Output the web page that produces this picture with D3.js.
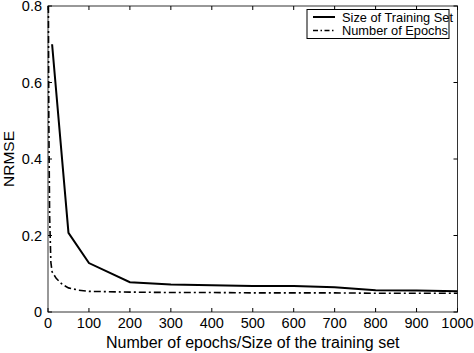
<!DOCTYPE html>
<html>
<head>
<meta charset="utf-8">
<script src="https://cdn.jsdelivr.net/npm/d3@7"></script>
<style>
body { margin: 0; background: #fff; }
text { font-family: "Liberation Sans", Arial, sans-serif; fill: #000; }
</style>
</head>
<body>
<svg id="chart" width="474" height="353"></svg>
<script>
// values
var trainX = [10, 50, 100, 200, 300, 400, 500, 600, 700, 800, 900, 1000];
var trainY = [0.70, 0.207, 0.128, 0.078, 0.072, 0.070, 0.068, 0.068, 0.065, 0.057, 0.056, 0.054];

var epochX = [1, 2, 4, 7, 10, 20, 35, 50, 75, 100, 200, 300, 400, 500, 600, 700, 800, 900, 1000];
var epochY = [0.8, 0.5, 0.25, 0.13, 0.105, 0.088, 0.072, 0.063, 0.057, 0.054, 0.052, 0.051, 0.051, 0.050, 0.050, 0.050, 0.049, 0.049, 0.049];

var xTicks = [0, 100, 200, 300, 400, 500, 600, 700, 800, 900, 1000];
var yTicks = [0, 0.2, 0.4, 0.6, 0.8];

var seriesNames = ["Size of Training Set", "Number of Epochs"];

var svg = d3.select("#chart");
var plotL = 48, plotR = 457.5, plotT = 6, plotB = 312;

var x = d3.scaleLinear().domain([0, 1000]).range([plotL, plotR]);
var y = d3.scaleLinear().domain([0, 0.8]).range([plotB, plotT]);

// frame
svg.append("rect")
	.attr("x", plotL).attr("y", plotT)
	.attr("width", plotR - plotL).attr("height", plotB - plotT)
	.attr("fill", "none")
	.attr("stroke", "#333")
	.attr("stroke-width", 1);

// inner ticks, all four sides
var tickLen = 4;
for (var i = 0; i < xTicks.length; i++)
{
	var tx = x(xTicks[i]);
	svg.append("line").attr("x1", tx).attr("x2", tx).attr("y1", plotB).attr("y2", plotB - tickLen).attr("stroke", "#000");
	svg.append("line").attr("x1", tx).attr("x2", tx).attr("y1", plotT).attr("y2", plotT + tickLen).attr("stroke", "#000");
	svg.append("text")
		.attr("x", tx).attr("y", plotB + 16)
		.attr("text-anchor", "middle")
		.attr("font-size", 14.5)
		.text(xTicks[i]);
}
for (var j = 0; j < yTicks.length; j++)
{
	var ty = y(yTicks[j]);
	svg.append("line").attr("x1", plotL).attr("x2", plotL + tickLen).attr("y1", ty).attr("y2", ty).attr("stroke", "#000");
	svg.append("line").attr("x1", plotR).attr("x2", plotR - tickLen).attr("y1", ty).attr("y2", ty).attr("stroke", "#000");
	svg.append("text")
		.attr("x", plotL - 6).attr("y", ty + 5)
		.attr("text-anchor", "end")
		.attr("font-size", 14.5)
		.text(yTicks[j] === 0 ? "0" : yTicks[j].toFixed(1));
}

// axis titles
svg.append("text")
	.attr("x", (plotL + plotR) / 2).attr("y", 348)
	.attr("text-anchor", "middle")
	.attr("font-size", 16)
	.text("Number of epochs/Size of the training set");

svg.append("text")
	.attr("transform", "translate(14," + ((plotT + plotB) / 2) + ") rotate(-90)")
	.attr("text-anchor", "middle")
	.attr("font-size", 15.5)
	.text("NRMSE");

// series
var line = d3.line()
	.x(function(d) { return x(d[0]); })
	.y(function(d) { return y(d[1]); });

var trainPts = trainX.map(function(v, k) { return [v, trainY[k]]; });
var epochPts = epochX.map(function(v, k) { return [v, epochY[k]]; });

svg.append("path")
	.datum(trainPts)
	.attr("d", line)
	.attr("fill", "none")
	.attr("stroke", "#000")
	.attr("stroke-width", 2);

svg.append("path")
	.datum(epochPts)
	.attr("d", line)
	.attr("fill", "none")
	.attr("stroke", "#000")
	.attr("stroke-width", 1.6)
	.attr("stroke-dasharray", "7,3,2,3");

// legend
var lg = svg.append("g");
lg.append("rect")
	.attr("x", 307).attr("y", 9.5)
	.attr("width", 142).attr("height", 29)
	.attr("fill", "#fff")
	.attr("stroke", "#000")
	.attr("stroke-width", 1);

var dashes = ["none", "5,2.5,1.5,2.5"];
for (var m = 0; m < seriesNames.length; m++)
{
	var ly = 17 + m * 13.5;
	lg.append("line")
		.attr("x1", 313).attr("x2", 335)
		.attr("y1", ly).attr("y2", ly)
		.attr("stroke", "#000")
		.attr("stroke-width", m == 0 ? 2 : 1.5)
		.attr("stroke-dasharray", dashes[m]);
	lg.append("text")
		.attr("x", 342).attr("y", ly + 4.5)
		.attr("font-size", 12.8)
		.text(seriesNames[m]);
}
</script>
</body>
</html>
